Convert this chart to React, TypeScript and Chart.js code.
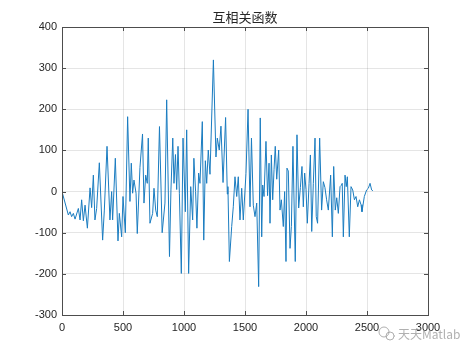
import React, { useEffect, useRef } from "react";
import { Chart, registerables } from "chart.js";

Chart.register(...registerables);

const titleText = "互相关函数";
const watermark = "天天Matlab";
const xTicks = [0, 500, 1000, 1500, 2000, 2500, 3000];
const yTicks = [-300, -200, -100, 0, 100, 200, 300, 400];

const lags = [
  0, 52, 66, 79, 93, 107, 134, 148, 161, 175, 189, 208, 230, 243, 257, 270, 284, 306, 333, 347,
  369, 393, 407, 415, 437, 459, 470, 489, 500, 519, 538, 557, 568, 579, 590, 607, 617, 639, 660, 672,
  686, 699, 707, 721, 743, 754, 768, 781, 799, 821, 844, 858, 881, 893, 908, 918, 930, 940, 951, 962,
  978, 992, 1011, 1022, 1038, 1055, 1071, 1081, 1095, 1106, 1120, 1131, 1150, 1162, 1175, 1186, 1199, 1213, 1241, 1262,
  1273, 1289, 1303, 1320, 1341, 1355, 1360, 1372, 1391, 1404, 1418, 1432, 1445, 1459, 1473, 1486, 1508, 1525, 1541, 1553,
  1568, 1582, 1596, 1612, 1625, 1637, 1645, 1656, 1672, 1685, 1697, 1705, 1716, 1727, 1738, 1748, 1760, 1776, 1787, 1798,
  1814, 1825, 1836, 1844, 1855, 1869, 1880, 1893, 1912, 1926, 1940, 1954, 1967, 1978, 1989, 2000, 2011, 2025, 2036, 2047,
  2060, 2074, 2084, 2095, 2112, 2128, 2142, 2155, 2169, 2183, 2202, 2216, 2227, 2240, 2252, 2265, 2279, 2289, 2297, 2306,
  2320, 2330, 2339, 2355, 2369, 2383, 2397, 2410, 2424, 2438, 2451, 2459, 2478, 2497, 2511, 2525, 2538, 2548,
];

const values = [
  0, -57, -49, -61, -53, -67, -41, -69, -20, -71, -33, -89, 9, -39, 40, -69, -41, 70, -118, -45,
  110, -69, 0, -69, 81, -120, -53, -110, -12, -100, 182, -24, 69, -4, 28, -4, -102, 59, 140, -28,
  40, 20, 130, -77, -53, 8, -45, -61, 158, -100, -28, 223, -158, 4, 130, 20, 90, 5, 110, -4,
  -199, 130, -49, 150, -199, 12, -69, 81, 0, -89, 45, 20, 170, -118, 75, 20, 101, 42, 320, 84,
  130, 101, 159, 22, 180, -6, 12, -170, -85, -37, 36, -12, 36, -69, 8, -69, 44, 200, -37, 130,
  -33, -61, -28, -231, 179, -110, 16, -12, 122, -10, 69, -77, 89, -20, 53, 110, 30, 101, -45, -20,
  -85, 0, -170, 57, 50, -138, -85, 110, -170, 138, -40, 10, 61, -37, 45, 5, -77, 20, 89, -97,
  20, 130, -61, -77, 130, -45, 24, 10, -20, -45, 40, -110, 61, -45, -15, -53, 12, 15, 20, -110,
  40, 12, 36, -110, 12, 4, -20, -12, -37, -20, -32, -49, -12, 4, 8, 20, 4, 2,
];

const boxPlugin = {
  id: "matlabBox",
  afterDraw(chart: any) {
    const { ctx, chartArea } = chart;
    const { left, right, top, bottom } = chartArea;
    const xs = chart.scales.x;
    const ys = chart.scales.y;
    ctx.save();
    ctx.strokeStyle = "#4d4d4d";
    ctx.lineWidth = 1;
    ctx.beginPath();
    const tl = 4;
    xTicks.forEach((t) => {
      const px = Math.round(xs.getPixelForValue(t)) + 0.5;
      ctx.moveTo(px, bottom);
      ctx.lineTo(px, bottom - tl);
      ctx.moveTo(px, top);
      ctx.lineTo(px, top + tl);
    });
    yTicks.forEach((t) => {
      const py = Math.round(ys.getPixelForValue(t)) + 0.5;
      ctx.moveTo(left, py);
      ctx.lineTo(left + tl, py);
      ctx.moveTo(right, py);
      ctx.lineTo(right - tl, py);
    });
    ctx.stroke();
    ctx.strokeRect(Math.round(left) + 0.5, Math.round(top) + 0.5, Math.round(right - left), Math.round(bottom - top));
    // title
    ctx.fillStyle = "#262626";
    ctx.font = "13px 'Noto Sans CJK SC'";
    ctx.textAlign = "center";
    ctx.textBaseline = "middle";
    ctx.fillText(titleText, (left + right) / 2, 17);
    // watermark
    ctx.fillStyle = "rgba(150,150,150,0.75)";
    ctx.font = "12px 'Noto Sans CJK SC'";
    ctx.textAlign = "left";
    ctx.fillText(watermark, 398, 334);
    ctx.strokeStyle = "rgba(150,150,150,0.75)";
    ctx.beginPath();
    ctx.arc(384, 332, 5, 0, Math.PI * 2);
    ctx.moveTo(395, 336);
    ctx.arc(390, 336, 4, 0, Math.PI * 2);
    ctx.stroke();
    ctx.restore();
  },
};

export default function App() {
  const ref = useRef<HTMLCanvasElement>(null);
  useEffect(() => {
    if (!ref.current) return;
    const chart = new Chart(ref.current, {
      type: "line",
      data: {
        datasets: [
          {
            data: lags.map((x, i) => ({ x, y: values[i] })),
            borderColor: "#1a7cc0",
            borderWidth: 1,
            pointRadius: 0,
            tension: 0,
            fill: false,
          },
        ],
      },
      options: {
        animation: false,
        responsive: false,
        maintainAspectRatio: false,
        layout: { padding: { top: 27, right: 46, left: 0, bottom: 0 } },
        plugins: { legend: { display: false }, tooltip: { enabled: false }, title: { display: false } },
        scales: {
          x: {
            type: "linear",
            min: 0,
            max: 3000,
            afterBuildTicks: (s: any) => {
              s.ticks = xTicks.map((v) => ({ value: v }));
            },
            afterFit: (s: any) => {
              s.height = 40;
            },
            ticks: {
              padding: 6,
              color: "#262626",
              font: { family: "'Liberation Sans', Arial, sans-serif", size: 11 },
              maxRotation: 0,
              autoSkip: false,
              callback: (v: any) => String(v),
            },
            grid: { color: "rgba(0,0,0,0.1)", drawTicks: false, lineWidth: 1 },
            border: { display: false },
          },
          y: {
            type: "linear",
            min: -300,
            max: 400,
            afterBuildTicks: (s: any) => {
              s.ticks = yTicks.map((v) => ({ value: v }));
            },
            afterFit: (s: any) => {
              s.width = 62;
            },
            ticks: {
              padding: 5,
              color: "#262626",
              font: { family: "'Liberation Sans', Arial, sans-serif", size: 11 },
              autoSkip: false,
              callback: (v: any) => String(v),
            },
            grid: { color: "rgba(0,0,0,0.1)", drawTicks: false, lineWidth: 1 },
            border: { display: false },
          },
        },
      },
      plugins: [boxPlugin],
    });
    return () => chart.destroy();
  }, []);
  return (
    <div style={{ position: "fixed", left: 0, top: 0, width: 474, height: 355, background: "#fff" }}>
      <canvas ref={ref} width={474} height={355} style={{ width: 474, height: 355 }} />
    </div>
  );
}
